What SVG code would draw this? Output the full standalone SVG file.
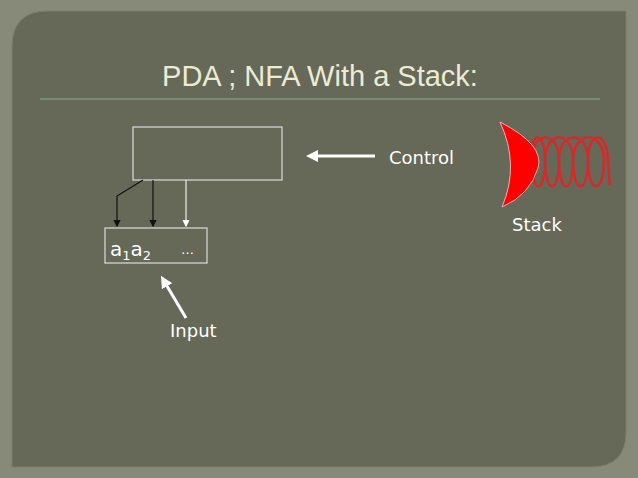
<svg xmlns="http://www.w3.org/2000/svg" width="638" height="478" viewBox="0 0 638 478">
<style>
.t{font-family:"DejaVu Sans","Liberation Sans",sans-serif;fill:#ffffff}
.k{stroke:#111;stroke-width:1.2;fill:none}
</style>
<defs>
<marker id="mb" markerWidth="6" markerHeight="6" refX="5" refY="3" orient="auto"><path d="M0,0L6,3L0,6z" fill="#111"/></marker>
<marker id="mw" markerWidth="6" markerHeight="6" refX="5" refY="3" orient="auto"><path d="M0,0L6,3L0,6z" fill="#fff"/></marker>
<marker id="mt" markerWidth="4" markerHeight="4" refX="2" refY="2" orient="auto"><path d="M0,0L4,2L0,4z" fill="#fff"/></marker>
</defs>
<rect width="638" height="478" fill="#878a78"/>
<path d="M48,11H626V432Q626,467 591,467H12V47Q12,11 48,11Z" fill="#666858" stroke="#7c7e6c"/>
<text x="320" y="86" text-anchor="middle" font-family="Liberation Sans Narrow,Liberation Sans,sans-serif" font-size="29" fill="#ececd4">PDA ; NFA With a Stack:</text>
<line x1="40" y1="99" x2="600" y2="99" stroke="#7e9a7a" stroke-width="1.5"/>
<g id="control"><rect x="133" y="127" width="149" height="53" fill="none" stroke="#ddd" stroke-width="1.2"/></g>
<g id="input"><rect x="105" y="228" width="102" height="35" fill="none" stroke="#ddd" stroke-width="1.2"/>
<text class="t" x="110" y="256" font-size="20">a<tspan font-size="13" dy="4">1</tspan><tspan dy="-4">a</tspan><tspan font-size="13" dy="4">2</tspan></text>
<text class="t" x="181" y="254" font-size="13">…</text></g>
<g id="connectors">
<path class="k" d="M143,180L117,196V226" marker-end="url(#mb)"/>
<path class="k" d="M153,180V226" marker-end="url(#mb)"/>
<path d="M186,180V226" stroke="#eee" stroke-width="1.2" marker-end="url(#mw)"/>
<path d="M375,156H312" stroke="#fff" stroke-width="3" marker-end="url(#mt)"/>
<path d="M186,318L164,281" stroke="#fff" stroke-width="3" marker-end="url(#mt)"/>
</g>
<text class="t" x="389" y="164" font-size="18">Control</text>
<text class="t" x="170" y="337" font-size="18">Input</text>
<g id="stack">
<path d="M530,160C530,130 545,130 545,160C545,195 532,195 532,160C532,130 559,130 559,160C559,195 545,195 545,160C545,130 573,130 573,160C573,195 559,195 559,160C559,130 588,130 588,160C588,195 573,195 573,160C573,130 604,130 604,160C604,195 588,195 588,160C588,130 607,130 608,160C609,175 609,180 610,185" fill="none" stroke="#d42a2a" stroke-width="2.5"/>
<path d="M500,122Q545,145 538,168Q530,195 502,207Q520,165 500,122Z" fill="#ff0000" stroke="#f0b0b0" stroke-width="1"/>
<text class="t" x="512" y="231" font-size="18">Stack</text>
</g>
</svg>
